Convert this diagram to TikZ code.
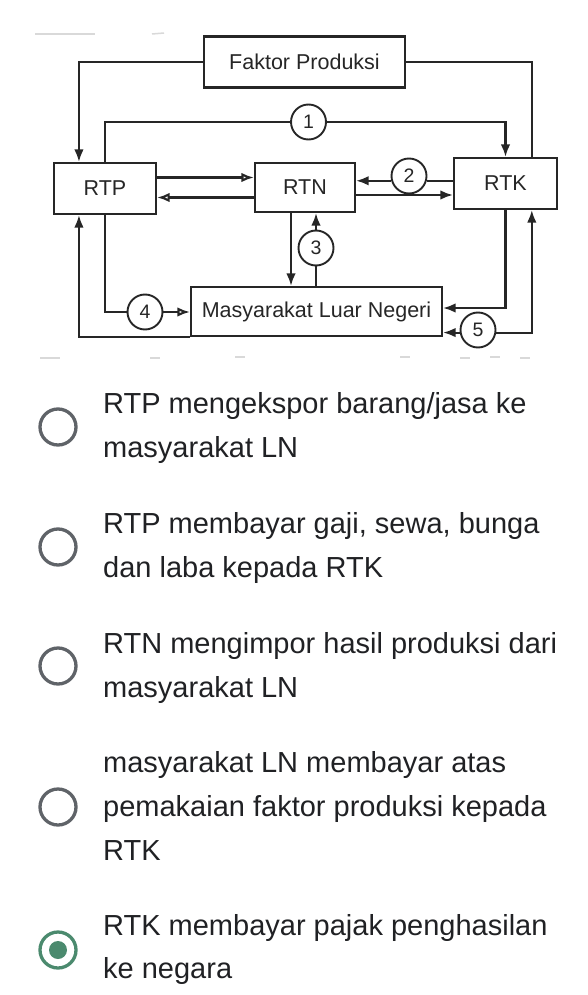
\documentclass[tikz,border=0pt]{standalone}
\usepackage{fontspec}
\setmainfont{Liberation Sans}
\usetikzlibrary{arrows.meta,calc}
\definecolor{ink}{HTML}{262626}
\definecolor{txt}{HTML}{202124}
\definecolor{ring}{HTML}{5F6368}
\definecolor{sel}{RGB}{75,138,110}
\begin{document}
\begin{tikzpicture}[x=1pt,y=-1pt,
  box/.style={draw=ink, line width=2.2pt, inner sep=0pt, text=ink, font=\fontsize{21.5}{25}\selectfont},
  num/.style={circle, draw=ink, line width=1.9pt, minimum size=35pt, inner sep=0pt, text=ink, font=\fontsize{19.5}{22}\selectfont},
  flow/.style={draw=ink, line width=2.1pt},
  arr/.style={flow, -{Latex[length=12.5pt,width=9.5pt]}},
  oarr/.style={flow, -{Latex[open,length=12.5pt,width=9.5pt]}},
  opt/.style={anchor=base west, inner sep=0pt, text=txt, font=\fontsize{29}{34}\selectfont},
  radio/.style={circle, draw=ring, line width=3.3pt, minimum size=36pt, inner sep=0pt},
  scan/.style={draw=gray!30, line width=1.5pt}
]
\useasboundingbox (0,0) rectangle (588,995);

% faint scan remnants
\draw[scan] (35,34) -- (95,34);
\draw[scan] (152,34) -- (164,33);
\draw[scan] (40,358) -- (60,358) (150,358) -- (160,358) (235,357) -- (245,357) (400,357) -- (410,357) (460,358) -- (470,358) (490,357) -- (500,357) (520,358) -- (530,358);

% boxes
\node[box, minimum width=201pt, minimum height=51pt] (fp) at (304.5,62) {Faktor Produksi};
\node[box, minimum width=102pt, minimum height=51pt] (rtp) at (105,188.5) {RTP};
\node[box, minimum width=100pt, minimum height=49pt] (rtn) at (305,187.5) {RTN};
\node[box, minimum width=103pt, minimum height=51pt] (rtk) at (505.5,183.5) {RTK};
\node[box, minimum width=251pt, minimum height=49pt] (mln) at (316.5,311.5) {Masyarakat Luar Negeri};

% numbered circles
\node[num] (c1) at (308.5,122) {1};
\node[num] (c2) at (409,176) {2};
\node[num] (c3) at (316,248) {3};
\node[num] (c4) at (145,312) {4};
\node[num] (c5) at (478,330) {5};

% helper coordinates
\coordinate (rtpNW) at ($(rtp.north west)!0.25!(rtp.north east)$);
\coordinate (rtpSW) at ($(rtp.south west)!0.25!(rtp.south east)$);
\coordinate (rtkNE) at ($(rtk.north west)!0.75!(rtk.north east)$);
\coordinate (rtkSE) at ($(rtk.south west)!0.75!(rtk.south east)$);

% Faktor Produksi links
\draw[arr] (fp.west) -| (rtpNW);
\draw[flow] (fp.east) -| (rtkNE);

% flow 1
\draw[flow] (rtp.north) |- (c1.west);
\draw[arr] (c1.east) -| (rtk.north);

% RTP <-> RTN
\draw[oarr] ([yshift=11pt]rtp.east) -- ([yshift=11pt]rtp.east -| rtn.west);
\draw[oarr] ([yshift=-10pt]rtn.west) -- ([yshift=-10pt]rtn.west -| rtp.east);

% RTN <-> RTK, flow 2
\draw[flow] (rtk.west |- c2.-15) -- (c2.-15);
\draw[arr] (c2.195) -- (c2.195 -| rtn.east);
\draw[arr] ([yshift=-7.5pt]rtn.east) -- ([yshift=-7.5pt]rtn.east -| rtk.west);

% RTN <-> MLN, flow 3
\draw[arr] ([xshift=-14pt]rtn.south) -- ([xshift=-14pt]rtn.south |- mln.north);
\draw[flow] (mln.north -| c3.south) -- (c3.south);
\draw[arr] (c3.north) -- (c3.north |- rtn.south);

% RTP <-> MLN, flow 4
\draw[flow] (rtp.south) |- (c4.west);
\draw[oarr] (c4.east) -- (c4.east -| mln.west);
\draw[arr] (mln.south west) -| (rtpSW);

% RTK <-> MLN, flow 5
\draw[arr] (rtk.south) |- ([yshift=3.5pt]mln.east);
\draw[arr] (c5.-8) -| (rtkSE);
\draw[arr] (c5.188) -- (c5.188 -| mln.east);

% options
\node[radio] (r1) at (58,427) {};
\node[opt] (o1a) at (103,413) {RTP mengekspor barang/jasa ke};
\node[opt] (o1b) at (103,457) {masyarakat LN};

\node[radio] (r2) at (58,547) {};
\node[opt] (o2a) at (103,533) {RTP membayar gaji, sewa, bunga};
\node[opt] (o2b) at (103,577) {dan laba kepada RTK};

\node[radio] (r3) at (58,666) {};
\node[opt] (o3a) at (103,653) {RTN mengimpor hasil produksi dari};
\node[opt] (o3b) at (103,697) {masyarakat LN};

\node[radio] (r4) at (58,807) {};
\node[opt] (o4a) at (103,772) {masyarakat LN membayar atas};
\node[opt] (o4b) at (103,816) {pemakaian faktor produksi kepada};
\node[opt] (o4c) at (103,860) {RTK};

\node[radio, draw=sel] (r5) at (58,950) {};
\node[circle, fill=sel, minimum size=18pt, inner sep=0pt] (r5dot) at (r5.center) {};
\node[opt] (o5a) at (103,935) {RTK membayar pajak penghasilan};
\node[opt] (o5b) at (103,978) {ke negara};
\end{tikzpicture}
\end{document}
